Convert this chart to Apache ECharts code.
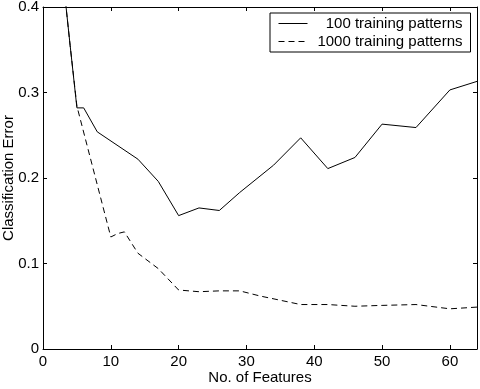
<!DOCTYPE html>
<html>
<head>
<meta charset="utf-8">
<script src="https://cdn.jsdelivr.net/npm/echarts@6/dist/echarts.min.js"></script>
<style>html,body{margin:0;padding:0;background:#fff;}#c{width:480px;height:389px;}</style>
</head>
<body>
<div id="c"></div>
<script>
// Data
var seriesNames = ['100 training patterns', '1000 training patterns'];
var featuresSmall = [3, 4, 5, 6, 8, 14, 17, 20, 23, 26, 29, 34, 38, 42, 46, 50, 55, 60, 64];
var errorSmall = [0.43, 0.355, 0.282, 0.282, 0.254, 0.222, 0.196, 0.156, 0.165, 0.162, 0.183, 0.215, 0.247, 0.211, 0.224, 0.263, 0.259, 0.303, 0.313];
var featuresLarge = [3, 4, 5, 10, 11, 12, 14, 17, 20, 23, 26, 29, 32, 38, 42, 46, 50, 55, 60, 64];
var errorLarge = [0.43, 0.355, 0.284, 0.131, 0.135, 0.137, 0.112, 0.094, 0.069, 0.067, 0.068, 0.068, 0.062, 0.052, 0.052, 0.050, 0.051, 0.052, 0.047, 0.049];
var xTicks = [0, 10, 20, 30, 40, 50, 60];
var yTicks = [0, 0.1, 0.2, 0.3, 0.4];

function pairs(xs, ys) { return xs.map(function (x, i) { return [x, ys[i]]; }); }

var FONT = 'Liberation Sans, Arial, Helvetica, sans-serif';
var chart = echarts.init(document.getElementById('c'), null, {renderer: 'canvas'});
var axisLineStyle = {color: '#000', width: 1};
chart.setOption({
  animation: false,
  backgroundColor: '#fff',
  grid: {left: 43, top: 7, right: 3, bottom: 40, containLabel: false, outerBoundsMode: 'none'},
  legend: {
    show: true,
    left: 270, top: 13,
    orient: 'vertical',
    data: [{name: seriesNames[0]}, {name: seriesNames[1]}],
    backgroundColor: '#fff',
    borderColor: '#000', borderWidth: 1,
    padding: [3, 8, 3, 8],
    itemWidth: 29, itemHeight: 14, itemGap: 3,
    itemStyle: {opacity: 0},
    lineStyle: {width: 1, color: '#000', type: 'inherit'},
    formatter: function (n) { return '{a|' + n + '}'; },
    textStyle: {
      color: '#000', fontFamily: FONT, fontSize: 15, lineHeight: 14,
      rich: {a: {width: 150, align: 'right', fontFamily: FONT, fontSize: 15, lineHeight: 14, color: '#000'}}
    }
  },
  xAxis: [{
    type: 'value', min: 0, max: 64, interval: 10,
    name: 'No. of Features', nameLocation: 'middle', nameGap: 21, nameMoveOverlap: false,
    nameTextStyle: {color: '#000', fontFamily: FONT, fontSize: 15},
    axisLine: {show: true, lineStyle: axisLineStyle},
    axisTick: {show: true, inside: true, length: 4, lineStyle: axisLineStyle},
    axisLabel: {color: '#000', fontFamily: FONT, fontSize: 15, margin: 5,
      formatter: function (v) { return xTicks.indexOf(v) >= 0 ? String(v) : ''; }},
    splitLine: {show: false}
  }, {
    type: 'value', min: 0, max: 64, interval: 10, position: 'top',
    axisLine: {show: true, onZero: false, lineStyle: axisLineStyle},
    axisTick: {show: true, inside: true, length: 4, lineStyle: axisLineStyle},
    axisLabel: {show: false}, splitLine: {show: false}
  }],
  yAxis: [{
    type: 'value', min: 0, max: 0.4, interval: 0.1,
    name: 'Classification Error', nameLocation: 'middle', nameGap: 27, nameMoveOverlap: false,
    nameTextStyle: {color: '#000', fontFamily: FONT, fontSize: 15},
    axisLine: {show: true, lineStyle: axisLineStyle},
    axisTick: {show: true, inside: true, length: 4, lineStyle: axisLineStyle},
    axisLabel: {color: '#000', fontFamily: FONT, fontSize: 15, margin: 4,
      formatter: function (v) {
        for (var i = 0; i < yTicks.length; i++) {
          if (Math.abs(yTicks[i] - v) < 1e-9) return v === 0 ? '0' : yTicks[i].toFixed(1);
        }
        return '';
      }},
    splitLine: {show: false}
  }, {
    type: 'value', min: 0, max: 0.4, interval: 0.1, position: 'right',
    axisLine: {show: true, onZero: false, lineStyle: axisLineStyle},
    axisTick: {show: true, inside: true, length: 4, lineStyle: axisLineStyle},
    axisLabel: {show: false}, splitLine: {show: false}
  }],
  series: [{
    name: seriesNames[0], type: 'line', symbol: 'none', clip: true,
    data: pairs(featuresSmall, errorSmall),
    lineStyle: {color: '#000', width: 1, type: 'solid'},
    itemStyle: {color: '#000'}
  }, {
    name: seriesNames[1], type: 'line', symbol: 'none', clip: true,
    data: pairs(featuresLarge, errorLarge),
    lineStyle: {color: '#000', width: 1, type: [6, 4]},
    itemStyle: {color: '#000'}
  }]
});
</script>
</body>
</html>
